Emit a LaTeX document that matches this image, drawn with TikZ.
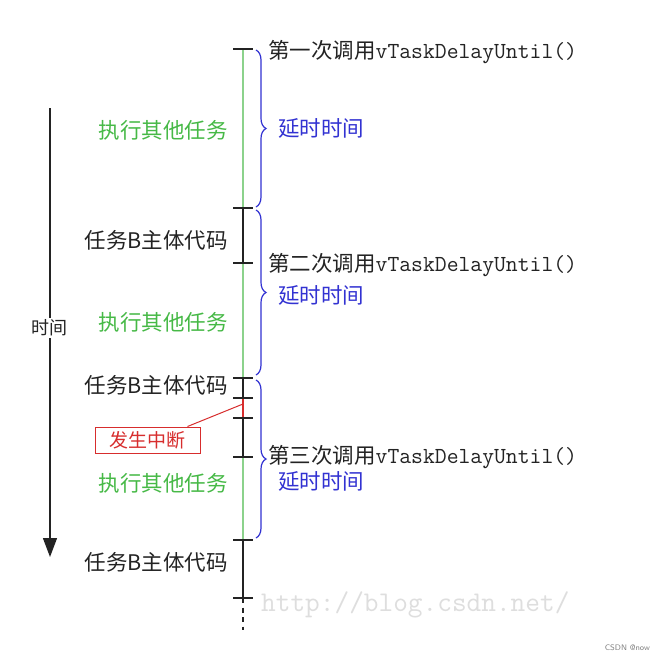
\documentclass[tikz,border=0pt]{standalone}
\usepackage{fontspec}
\setmainfont{Liberation Serif}
\newfontfamily\cjk{Noto Sans CJK SC}
\usetikzlibrary{arrows.meta,decorations.pathreplacing,calc}
\definecolor{tgreen}{RGB}{70,185,70}
\definecolor{lgreen}{RGB}{140,210,140}
\definecolor{tblue}{RGB}{50,50,210}
\definecolor{tred}{RGB}{215,45,45}
\definecolor{tblack}{RGB}{35,35,35}
\definecolor{wmark}{RGB}{222,222,222}
\tikzset{
  lbl/.style={inner sep=0pt, font=\cjk\fontsize{21.5}{24}\selectfont},
  leftlbl/.style={lbl, anchor=east},
  greenlbl/.style={leftlbl, text=tgreen},
  blacklbl/.style={leftlbl, text=tblack},
  calllbl/.style={lbl, anchor=west, text=tblack},
  delaylbl/.style={lbl, anchor=west, text=tblue},
  seg/.style={line width=1.3pt, draw=tblack},
  gseg/.style={line width=1.3pt, draw=lgreen},
  rseg/.style={line width=1.3pt, draw=tred},
  tickmark/.style={line width=1.3pt, draw=tblack},
  bracebox/.style={draw=tblue, line width=1.2pt, decorate, decoration={brace, amplitude=10pt}},
}
\newcommand{\tickat}[1]{\draw[tickmark] ($(#1)+(-10,0)$) -- ($(#1)+(10,0)$);}
\newcommand{\fname}{{\ttfamily\fontsize{23}{24}\selectfont vTaskDelayUntil()}}
\begin{document}
\begin{tikzpicture}[x=1pt,y=-1pt]
\useasboundingbox[fill=white] (0,0) rectangle (660,662);
% timeline points
\coordinate (t0) at (243,49);
\coordinate (t1) at (243,208);
\coordinate (t2) at (243,263);
\coordinate (t3) at (243,378);
\coordinate (t4) at (243,398);
\coordinate (t5) at (243,418);
\coordinate (t6) at (243,457);
\coordinate (t7) at (243,540);
\coordinate (t8) at (243,598);
\coordinate (tend) at (243,630);
\coordinate (irqpt) at (243,404);
% segments
\draw[gseg] (t0) -- (t1);
\draw[seg] (t1) -- (t2);
\draw[gseg] (t2) -- (t3);
\draw[seg] (t3) -- (t4);
\draw[rseg] (t4) -- (t5);
\draw[seg] (t5) -- (t6);
\draw[gseg] (t6) -- (t7);
\draw[seg] (t7) -- (t8);
\draw[seg, dash pattern=on 5pt off 4.5pt] (t8) -- (tend);
\foreach \p in {t0,t1,t2,t3,t4,t5,t6,t7,t8} {\tickat{\p}}
% braces
\coordinate (b0a) at (256,50);
\coordinate (b0b) at (256,207);
\coordinate (b1a) at (256,210);
\coordinate (b1b) at (256,375);
\coordinate (b2a) at (256,380);
\coordinate (b2b) at (256,538);
\draw[bracebox] (b0a) -- (b0b);
\draw[bracebox] (b1a) -- (b1b);
\draw[bracebox] (b2a) -- (b2b);
% right labels
\node[calllbl] (c1) at (268,52) {第一次调用\fname};
\node[delaylbl] (d1) at (278,128) {延时时间};
\node[calllbl] (c2) at (268,265) {第二次调用\fname};
\node[delaylbl] (d2) at (278,295) {延时时间};
\node[calllbl] (c3) at (268,457) {第三次调用\fname};
\node[delaylbl] (d3) at (278,481) {延时时间};
% left labels
\node[greenlbl] (g1) at (228,130) {执行其他任务};
\node[blacklbl] (k1) at (228,240) {任务B主体代码};
\node[greenlbl] (g2) at (228,322) {执行其他任务};
\node[blacklbl] (k2) at (228,385) {任务B主体代码};
\node[greenlbl] (g3) at (228,483) {执行其他任务};
\node[blacklbl] (k3) at (228,562) {任务B主体代码};
% interrupt box
\node[draw=tred, line width=1pt, minimum width=105pt, minimum height=26pt, inner sep=0pt,
      text=tred, font=\cjk\fontsize{19}{22}\selectfont] (irq) at (147.5,440) {发生中断};
\draw[tred, line width=1pt] (irqpt) -- ($(irq.north east)+(-13,0)$);
% time arrow
\coordinate (ta) at (50,108);
\coordinate (tb) at (50,557);
\draw[tblack, line width=1.3pt, -{Triangle[width=14pt,length=19pt]}] (ta) -- (tb);
\node[fill=white, inner sep=1.5pt, text=tblack, font=\cjk\fontsize{18}{20}\selectfont] (time) at (49,328) {时间};
% watermark
\node[inner sep=0pt, anchor=west, text=wmark, font=\ttfamily\fontsize{28.5}{30}\selectfont] (wm) at (261,605) {http://blog.csdn.net/};
\node[inner sep=0pt, anchor=east, text=gray, font=\fontsize{8}{9}\selectfont\sffamily] (cs) at (650,648) {CSDN @now};
\end{tikzpicture}
\end{document}
